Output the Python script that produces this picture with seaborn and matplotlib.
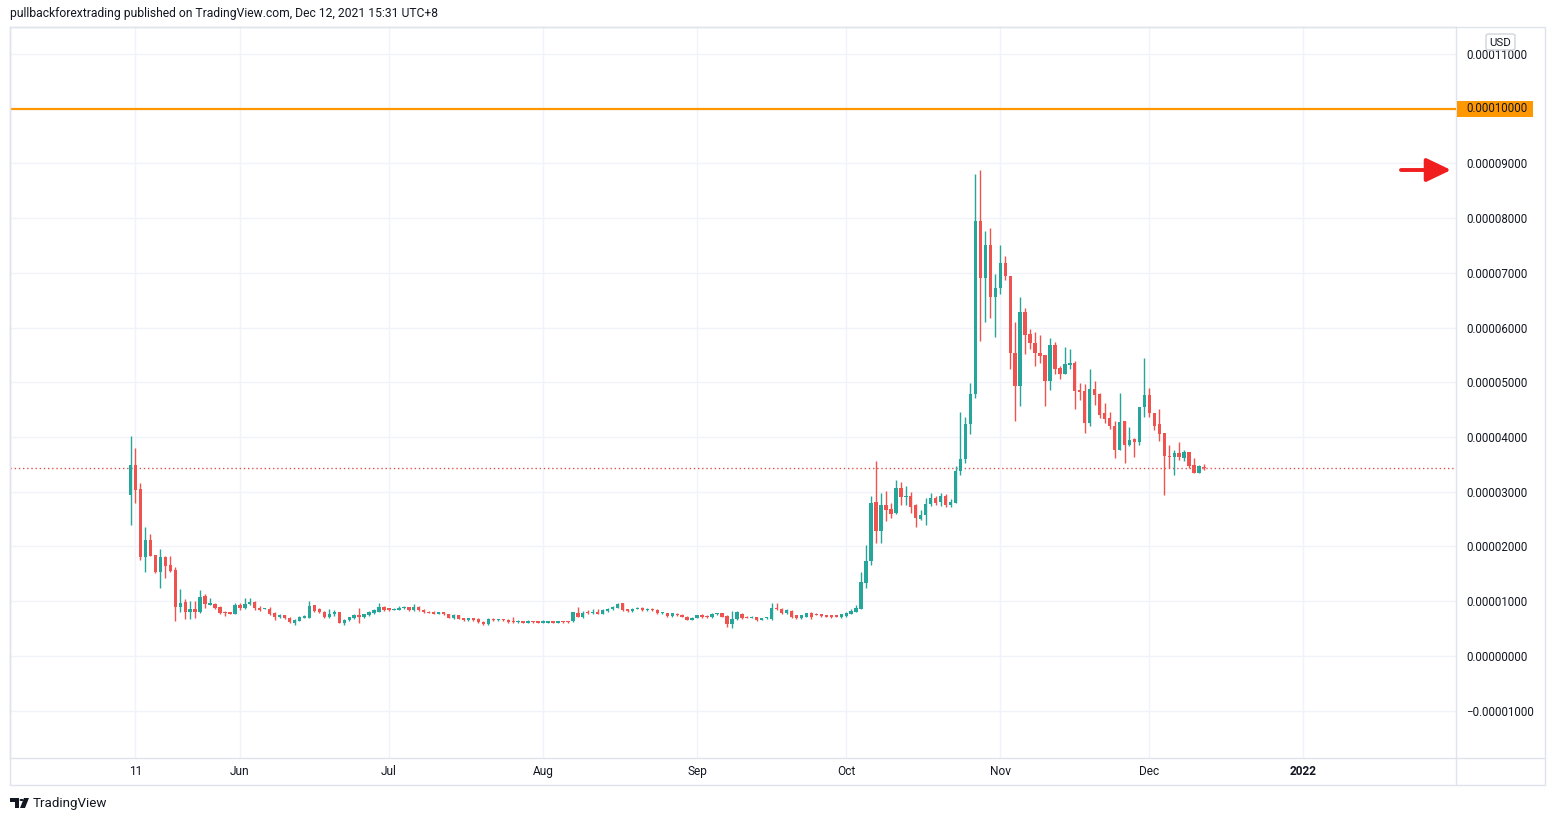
import numpy as np
import pandas as pd
import matplotlib
matplotlib.use('Agg')
import matplotlib.pyplot as plt
import matplotlib.dates as mdates
from matplotlib.patches import Rectangle, FancyBboxPatch, Polygon, Circle
from matplotlib.ticker import FuncFormatter
import seaborn as sns

W, H = 1554, 821
SCALE = 1e-5  # all prices below are in units of 0.00001 USD

# daily candles 2021-05-10 .. 2021-12-12
opens = [2.94, 3.48, 3.05, 1.80, 2.11, 1.85, 1.54, 1.80, 1.67, 1.575,
         0.90, 0.98, 0.81, 0.86, 0.81, 1.09, 0.94, 0.95, 0.90, 0.80,
         0.80, 0.77, 0.93, 0.87, 0.95, 0.99, 0.88, 0.855, 0.86, 0.78,
         0.71, 0.74, 0.70, 0.60, 0.64, 0.70, 0.70, 0.93, 0.86, 0.81,
         0.71, 0.76, 0.80, 0.60, 0.65, 0.69, 0.74, 0.71, 0.74, 0.78,
         0.81, 0.89, 0.88, 0.84, 0.845, 0.87, 0.89, 0.84, 0.90, 0.84,
         0.81, 0.80, 0.77, 0.80, 0.76, 0.69, 0.74, 0.69, 0.65, 0.69,
         0.68, 0.62, 0.58, 0.67, 0.65, 0.67, 0.66, 0.64, 0.62, 0.63,
         0.61, 0.63, 0.63, 0.61, 0.61, 0.63, 0.61, 0.63, 0.63, 0.63,
         0.79, 0.72, 0.79, 0.78, 0.81, 0.77, 0.83, 0.85, 0.88, 0.96,
         0.85, 0.82, 0.86, 0.88, 0.84, 0.86, 0.84, 0.78, 0.78, 0.73,
         0.77, 0.75, 0.72, 0.66, 0.70, 0.74, 0.73, 0.71, 0.76, 0.78,
         0.73, 0.59, 0.67, 0.77, 0.72, 0.695, 0.71, 0.66, 0.69, 0.67,
         0.885, 0.86, 0.78, 0.83, 0.74, 0.69, 0.72, 0.78, 0.765, 0.76,
         0.74, 0.74, 0.74, 0.71, 0.73, 0.77, 0.81, 0.86, 1.34, 1.73,
         2.81, 2.29, 2.75, 2.69, 2.61, 3.07, 2.90, 2.93, 2.75, 2.51,
         2.57, 2.78, 2.88, 2.81, 2.93, 2.75, 2.80, 3.38, 3.60, 4.24,
         4.79, 7.94, 6.90, 7.51, 6.55, 6.72, 7.18, 6.94, 5.54, 4.93,
         6.28, 5.88, 5.71, 5.53, 5.49, 5.02, 5.68, 5.26, 5.16, 5.31,
         5.36, 4.86, 4.84, 4.26, 4.87, 4.78, 4.43, 4.34, 4.21, 3.77,
         4.29, 3.86, 3.96, 3.91, 4.54, 4.76, 4.43, 4.23, 4.07, 3.66,
         3.63, 3.70, 3.62, 3.72, 3.48, 3.35, 3.46]
highs = [4.02, 3.80, 3.16, 2.36, 2.23, 1.85, 1.96, 1.82, 1.82, 1.62,
         1.22, 1.04, 1.00, 1.00, 1.21, 1.14, 1.06, 0.96, 0.91, 0.83,
         0.81, 0.96, 0.96, 1.05, 1.05, 1.00, 0.91, 0.88, 0.89, 0.80,
         0.76, 0.75, 0.71, 0.67, 0.73, 0.75, 1.00, 0.94, 0.87, 0.82,
         0.86, 0.84, 0.81, 0.68, 0.72, 0.76, 0.87, 0.77, 0.82, 0.86,
         0.97, 0.92, 0.88, 0.87, 0.91, 0.92, 0.89, 0.95, 0.92, 0.85,
         0.82, 0.82, 0.81, 0.81, 0.77, 0.77, 0.75, 0.70, 0.70, 0.70,
         0.69, 0.63, 0.70, 0.69, 0.68, 0.68, 0.67, 0.71, 0.66, 0.64,
         0.65, 0.64, 0.63, 0.65, 0.64, 0.64, 0.64, 0.63, 0.64, 0.80,
         0.90, 0.82, 0.84, 0.86, 0.85, 0.85, 0.88, 0.92, 0.97, 0.97,
         0.86, 0.87, 0.90, 0.89, 0.88, 0.88, 0.85, 0.81, 0.79, 0.79,
         0.78, 0.76, 0.73, 0.71, 0.75, 0.76, 0.74, 0.78, 0.78, 0.79,
         0.74, 0.82, 0.82, 0.79, 0.73, 0.725, 0.72, 0.70, 0.72, 0.965,
         0.975, 0.87, 0.86, 0.84, 0.75, 0.75, 0.79, 0.80, 0.78, 0.77,
         0.75, 0.75, 0.75, 0.77, 0.80, 0.86, 0.93, 1.53, 2.03, 2.92,
         3.56, 2.98, 3.02, 2.80, 3.22, 3.17, 3.10, 3.00, 2.77, 2.67,
         2.88, 2.97, 2.92, 2.98, 2.95, 2.86, 3.47, 4.46, 4.37, 4.98,
         8.81, 8.88, 7.77, 7.81, 6.98, 7.51, 7.31, 6.94, 6.10, 6.55,
         6.35, 5.98, 5.91, 5.87, 5.50, 5.80, 5.73, 5.30, 5.65, 5.60,
         5.38, 4.99, 4.96, 5.25, 5.02, 4.80, 4.63, 4.45, 4.29, 4.81,
         4.30, 4.19, 3.99, 4.55, 5.44, 4.89, 4.43, 4.51, 4.08, 3.85,
         3.77, 3.90, 3.77, 3.73, 3.62, 3.48, 3.50]
lows = [2.40, 2.80, 1.76, 1.53, 1.83, 1.51, 1.25, 1.42, 1.54, 0.63,
        0.81, 0.67, 0.68, 0.70, 0.79, 0.88, 0.93, 0.86, 0.77, 0.73,
        0.76, 0.76, 0.84, 0.85, 0.94, 0.84, 0.82, 0.85, 0.75, 0.65,
        0.70, 0.68, 0.61, 0.57, 0.63, 0.69, 0.69, 0.81, 0.79, 0.70,
        0.70, 0.73, 0.60, 0.57, 0.63, 0.68, 0.60, 0.70, 0.73, 0.77,
        0.80, 0.82, 0.83, 0.84, 0.84, 0.86, 0.83, 0.83, 0.83, 0.79,
        0.78, 0.76, 0.76, 0.75, 0.69, 0.67, 0.67, 0.64, 0.64, 0.64,
        0.61, 0.57, 0.57, 0.64, 0.63, 0.64, 0.61, 0.61, 0.61, 0.60,
        0.60, 0.61, 0.60, 0.60, 0.60, 0.60, 0.60, 0.61, 0.61, 0.62,
        0.71, 0.70, 0.77, 0.77, 0.76, 0.76, 0.81, 0.84, 0.87, 0.83,
        0.81, 0.81, 0.85, 0.83, 0.83, 0.83, 0.77, 0.76, 0.72, 0.72,
        0.73, 0.71, 0.65, 0.65, 0.69, 0.70, 0.70, 0.70, 0.745, 0.71,
        0.52, 0.51, 0.66, 0.67, 0.69, 0.69, 0.64, 0.65, 0.68, 0.66,
        0.84, 0.77, 0.76, 0.70, 0.68, 0.68, 0.71, 0.68, 0.74, 0.72,
        0.71, 0.70, 0.71, 0.70, 0.72, 0.76, 0.80, 0.85, 1.24, 1.67,
        2.07, 2.07, 2.46, 2.52, 2.60, 2.75, 2.75, 2.62, 2.35, 2.49,
        2.40, 2.74, 2.76, 2.74, 2.73, 2.72, 2.79, 3.31, 3.53, 4.06,
        4.72, 5.76, 6.10, 6.18, 5.82, 6.61, 6.87, 5.25, 4.29, 4.57,
        5.51, 5.60, 5.30, 5.36, 4.57, 4.86, 5.16, 5.06, 5.15, 5.25,
        4.51, 4.67, 4.08, 4.20, 4.58, 4.35, 4.26, 4.15, 3.62, 3.77,
        3.53, 3.83, 3.63, 3.85, 4.37, 4.37, 4.12, 3.93, 2.94, 3.44,
        3.30, 3.58, 3.57, 3.44, 3.35, 3.34, 3.40]
closes = [3.48, 3.04, 1.80, 2.11, 1.83, 1.53, 1.80, 1.65, 1.56, 0.90,
          0.97, 0.81, 0.86, 0.81, 1.08, 0.95, 0.96, 0.88, 0.79, 0.79,
          0.77, 0.93, 0.87, 0.95, 0.99, 0.87, 0.84, 0.87, 0.76, 0.72,
          0.74, 0.69, 0.62, 0.65, 0.71, 0.73, 0.92, 0.82, 0.80, 0.71,
          0.77, 0.81, 0.61, 0.66, 0.71, 0.74, 0.71, 0.76, 0.81, 0.84,
          0.90, 0.84, 0.84, 0.855, 0.88, 0.90, 0.84, 0.90, 0.84, 0.80,
          0.79, 0.77, 0.80, 0.76, 0.70, 0.74, 0.68, 0.65, 0.69, 0.65,
          0.62, 0.58, 0.67, 0.65, 0.66, 0.65, 0.62, 0.62, 0.64, 0.61,
          0.63, 0.62, 0.61, 0.63, 0.63, 0.60, 0.62, 0.62, 0.62, 0.80,
          0.72, 0.79, 0.78, 0.81, 0.77, 0.84, 0.85, 0.89, 0.95, 0.84,
          0.82, 0.86, 0.88, 0.84, 0.86, 0.84, 0.78, 0.79, 0.73, 0.78,
          0.74, 0.72, 0.66, 0.70, 0.74, 0.71, 0.71, 0.76, 0.77, 0.72,
          0.59, 0.67, 0.80, 0.70, 0.70, 0.715, 0.66, 0.69, 0.71, 0.885,
          0.85, 0.78, 0.84, 0.71, 0.69, 0.74, 0.78, 0.71, 0.75, 0.73,
          0.72, 0.71, 0.72, 0.76, 0.79, 0.83, 0.87, 1.35, 1.74, 2.80,
          2.29, 2.75, 2.67, 2.60, 3.07, 2.91, 2.93, 2.73, 2.52, 2.58,
          2.78, 2.88, 2.80, 2.93, 2.75, 2.81, 3.38, 3.60, 4.24, 4.79,
          7.94, 6.90, 7.51, 6.55, 6.72, 7.18, 6.94, 5.54, 4.93, 6.28,
          5.86, 5.71, 5.53, 5.48, 5.02, 5.68, 5.24, 5.16, 5.33, 5.35,
          4.84, 4.82, 4.26, 4.87, 4.76, 4.41, 4.32, 4.20, 3.77, 4.28,
          3.86, 3.94, 3.91, 4.54, 4.76, 4.43, 4.21, 4.06, 3.65, 3.63,
          3.70, 3.63, 3.72, 3.47, 3.35, 3.47, 3.44]

tick_dates = ['2021-05-11', '2021-06-01', '2021-07-01', '2021-08-01', '2021-09-01',
              '2021-10-01', '2021-11-01', '2021-12-01', '2022-01-01']
tick_labels = ['11', 'Jun', 'Jul', 'Aug', 'Sep', 'Oct', 'Nov', 'Dec', '2022']
price_ticks = [-1, 0, 1, 2, 3, 4, 5, 6, 7, 8, 9, 10, 11]
level = 10  # horizontal line at 0.0001

header = 'pullbackforextrading published on TradingView.com, Dec 12, 2021 15:31 UTC+8'

UP, DOWN = '#26a69a', '#ef5350'
GRID, FRAME, TXT = '#f0f3fa', '#e0e3eb', '#131722'
ORANGE = '#ff9800'

sns.set_theme(style='white')
plt.rcParams['font.family'] = ['Roboto', 'DejaVu Sans']

df = pd.DataFrame({'open': opens, 'high': highs, 'low': lows, 'close': closes})
df = df * SCALE
df['date'] = pd.date_range('2021-05-10', periods=len(df), freq='D')
df['x'] = mdates.date2num(df['date'])
df['up'] = df['close'] >= df['open']
df['color'] = np.where(df['up'], UP, DOWN)
df['body_lo'] = df[['open', 'close']].min(axis=1)
df['body_h'] = (df['close'] - df['open']).abs().clip(lower=0.02 * SCALE)

fig = plt.figure(figsize=(W / 100, H / 100), dpi=100)
fig.patch.set_facecolor('white')

def fx(x):
    return x / W

def fy(y):
    return 1 - y / H

ax = fig.add_axes([fx(10), fy(758), (1456 - 10) / W, (758 - 27) / H])
ax.set_facecolor('white')

# grid
xt = mdates.date2num(pd.to_datetime(tick_dates))
yt = np.array(price_ticks) * SCALE
for v in xt:
    ax.axvline(v, color=GRID, lw=1, zorder=0)
for v in yt:
    ax.axhline(v, color=GRID, lw=1, zorder=0)

# candles
ax.vlines(df['x'], df['low'], df['high'], colors=df['color'], lw=1, zorder=2)
ax.bar(df['x'], df['body_h'], bottom=df['body_lo'], width=0.68,
       color=df['color'], linewidth=0, zorder=3)

# last price dotted line and horizontal level
ax.axhline(df['close'].iloc[-1], color='#d9534f', lw=1, ls=(0, (1, 2)), zorder=1)
ax.axhline(level * SCALE, color=ORANGE, lw=1.6, zorder=4)

ax.set_xlim(mdates.date2num(pd.Timestamp('2021-05-11')) - 25.25,
            mdates.date2num(pd.Timestamp('2022-01-01')) + 30.7)
ax.set_ylim(-1.864 * SCALE, 11.49 * SCALE)

ax.set_xticks(xt)
ax.set_xticklabels(tick_labels)
for lab in ax.get_xticklabels():
    if lab.get_text() == '2022':
        lab.set_fontweight('bold')
ax.set_yticks(yt)
ax.yaxis.set_major_formatter(FuncFormatter(
    lambda v, p: f'{v:.8f}'.replace('-', '\u2212')))
ax.yaxis.tick_right()
ax.tick_params(axis='y', length=0, pad=7.5, labelsize=8.3, labelcolor=TXT)
ax.tick_params(axis='x', length=0, pad=5, labelsize=8.6, labelcolor=TXT)
for sp in ax.spines.values():
    sp.set_color(FRAME)
    sp.set_linewidth(1)

# outer frame of chart + time scale corner
fig.patches.append(Rectangle((fx(10), fy(785)), (1545 - 10) / W, (785 - 27) / H,
                             transform=fig.transFigure, fill=False,
                             ec=FRAME, lw=1))
fig.add_artist(plt.Line2D([fx(1456), fx(1456)], [fy(758), fy(785)],
                          transform=fig.transFigure, color=FRAME, lw=1))
fig.add_artist(plt.Line2D([fx(1456), fx(1545)], [fy(758), fy(758)],
                          transform=fig.transFigure, color=FRAME, lw=1))

# orange price label
fig.patches.append(Rectangle((fx(1457), fy(117)), 76 / W, 16 / H,
                             transform=fig.transFigure, fc=ORANGE, ec='none',
                             zorder=5))
fig.text(fx(1466), fy(109), f'{level * SCALE:.8f}', fontsize=8.3, color=TXT,
         va='center', ha='left', zorder=6)

# USD badge
fig.patches.append(FancyBboxPatch((fx(1486), fy(50)), 29 / W, 16 / H,
                                  boxstyle='round,pad=0,rounding_size=0.002',
                                  transform=fig.transFigure, fc='white',
                                  ec='#d1d4dc', lw=1, zorder=5))
fig.text(fx(1500.5), fy(42.5), 'USD', fontsize=8.2, color=TXT,
         ha='center', va='center', zorder=6)

# red arrow
ax.annotate('', xy=((1451 - 10) / 1446, (758 - 170) / 731),
            xytext=((1401 - 10) / 1446, (758 - 170) / 731),
            xycoords='axes fraction', textcoords='axes fraction',
            arrowprops=dict(arrowstyle='-|>,head_length=0.75,head_width=0.36',
                            color='#f01e1e', lw=2.8, mutation_scale=20,
                            shrinkA=0, shrinkB=0))

# header and footer
fig.text(fx(10), fy(14), header, fontsize=8.7, color=TXT, ha='left', va='center')
logo_c = '#131722'
fig.patches.append(Polygon([(fx(10), fy(798)), (fx(19), fy(798)), (fx(19), fy(808)),
                            (fx(15), fy(808)), (fx(15), fy(802)), (fx(10), fy(802))],
                           closed=True, transform=fig.transFigure, fc=logo_c, ec='none'))
fig.patches.append(Circle((fx(21.5), fy(800)), 2 / W, transform=fig.transFigure,
                          fc=logo_c, ec='none'))
fig.patches.append(Polygon([(fx(24), fy(798)), (fx(29), fy(798)), (fx(25), fy(808)),
                            (fx(20), fy(808))],
                           closed=True, transform=fig.transFigure, fc=logo_c, ec='none'))
fig.text(fx(33), fy(803), 'TradingView', fontsize=9.6, color=TXT, ha='left', va='center')

fig.savefig('out.png', dpi=100, facecolor='white')
